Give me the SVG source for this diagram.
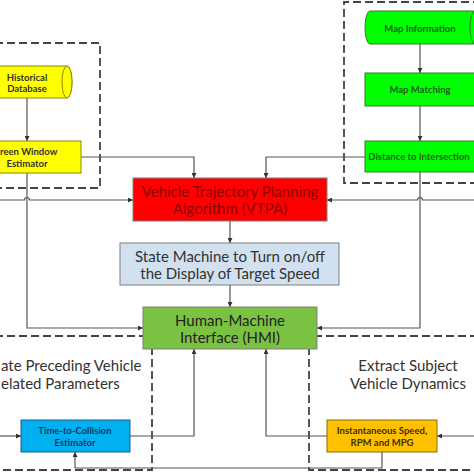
<svg xmlns="http://www.w3.org/2000/svg" width="474" height="474" viewBox="0 0 474 474">
<defs>
<marker id="ah" viewBox="0 0 10 10" refX="10" refY="5" markerWidth="5" markerHeight="5" orient="auto" markerUnits="userSpaceOnUse"><path d="M0,0 L10,5 L0,10 Z" fill="#333"/></marker>
<style>
.dash{fill:none;stroke:#444;stroke-width:1.8;stroke-dasharray:8,4}
.c{fill:none;stroke:#555;stroke-width:1.2}
.a{marker-end:url(#ah)}
text{font-family:Lato,"Liberation Sans",sans-serif;text-anchor:middle;dominant-baseline:central}
.s{font-size:9.5px;font-weight:bold}
.m{font-size:15px}
.box{stroke:#7f7f7f;stroke-width:1}
</style>
</defs>
<rect width="474" height="474" fill="#fff"/>
<g id="groups">
<path class="dash" d="M-5,43 H100 V188 H-5"/>
<path class="dash" d="M478,183 H344 V2 H478"/>
<path class="dash" d="M-5,336 H152 V470 H-5"/>
<path class="dash" d="M478,336 H309 V470 H478"/>
<text class="m" x="1" y="365" style="text-anchor:start" fill="#333">ate Preceding Vehicle</text>
<text class="m" x="1" y="383" style="text-anchor:start" fill="#333">elated Parameters</text>
<text class="m" x="408" y="365" fill="#333">Extract Subject</text>
<text class="m" x="408" y="383" fill="#333">Vehicle Dynamics</text>
</g>
<g id="connectors">
<path class="c a" d="M27,98 V141"/>
<path class="c a" d="M81,157 H194 V178"/>
<path class="c a" d="M0,200 H24.5 A2.5,2.5 0 0 1 29.5,200 H133"/>
<path class="c a" d="M27,173 V328 H143"/>
<path class="c a" d="M420,44 V73"/>
<path class="c a" d="M420,106 V141"/>
<path class="c a" d="M365,157 H266 V178"/>
<path class="c a" d="M474,200 H422.5 A2.5,2.5 0 0 0 417.5,200 H327"/>
<path class="c a" d="M420,172 V328 H317"/>
<path class="c a" d="M230,221 V243"/>
<path class="c a" d="M230,285 V307"/>
<path class="c a" d="M0,436 H21"/>
<path class="c a" d="M130,436 H194 V349"/>
<path class="c a" d="M474,436 H437"/>
<path class="c a" d="M327,436 H266 V349"/>
<path class="c a" d="M382,452 V468 H75 V452"/>
</g>
<g id="historical-database">
<path d="M-10,66 H67 A5,16 0 0 1 67,98 H-10 Z" fill="#ffff00" stroke="#8a8a00" stroke-width="1"/>
<ellipse cx="67" cy="82" rx="5" ry="16" fill="#ffff00" stroke="#8a8a00" stroke-width="1"/>
<text class="s" x="27" y="77" fill="#333">Historical</text>
<text class="s" x="27" y="88.5" fill="#333">Database</text>
</g>
<g id="green-window-estimator">
<rect x="-30" y="141" width="111" height="32" fill="#ffff00" stroke="#8a8a00" stroke-width="1"/>
<text class="s" x="0" y="151" style="text-anchor:start" fill="#333">reen Window</text>
<text class="s" x="27" y="163" fill="#333">Estimator</text>
</g>
<g id="map-information">
<path d="M370,11 H475 V44 H370 A5,16.5 0 0 1 370,11 Z" fill="#00ff00" stroke="#2e7d2e" stroke-width="1"/>
<ellipse cx="475" cy="27.5" rx="5" ry="16.5" fill="#00ff00" stroke="#2e7d2e" stroke-width="1"/>
<text class="s" x="420" y="28" fill="#1d5e1d">Map Information</text>
</g>
<g id="map-matching">
<rect x="365" y="73" width="115" height="33" fill="#00ff00" stroke="#2e7d2e" stroke-width="1"/>
<text class="s" x="420" y="89.5" fill="#1d5e1d">Map Matching</text>
</g>
<g id="distance-to-intersection">
<rect x="365" y="141" width="115" height="31" fill="#00ff00" stroke="#2e7d2e" stroke-width="1"/>
<text class="s" x="419" y="156" fill="#1d5e1d">Distance to Intersection</text>
</g>
<g id="vtpa">
<rect class="box" x="133" y="178" width="194" height="43" fill="#ff0000"/>
<text class="m" x="230" y="190.5" fill="#8b0000">Vehicle Trajectory Planning</text>
<text class="m" x="230" y="207.5" fill="#8b0000">Algorithm (VTPA)</text>
</g>
<g id="state-machine">
<rect class="box" x="120" y="243" width="219" height="42" fill="#d2e1ef"/>
<text class="m" x="230" y="255.5" fill="#333">State Machine to Turn on/off</text>
<text class="m" x="230" y="272.5" fill="#333">the Display of Target Speed</text>
</g>
<g id="hmi">
<rect class="box" x="143" y="307" width="174" height="42" fill="#7cc242"/>
<text class="m" x="230" y="320" fill="#222">Human-Machine</text>
<text class="m" x="230" y="337" fill="#222">Interface (HMI)</text>
</g>
<g id="ttc-estimator">
<rect x="21" y="420" width="109" height="32" fill="#00b0f0" stroke="#1f5f8b" stroke-width="1"/>
<text class="s" x="75" y="430.5" fill="#1f3864">Time-to-Collision</text>
<text class="s" x="75" y="442" fill="#1f3864">Estimator</text>
</g>
<g id="instantaneous-speed">
<rect x="327" y="420" width="110" height="32" fill="#ffc000" stroke="#8a6d00" stroke-width="1"/>
<text class="s" x="382" y="430.5" fill="#3d2e10">Instantaneous Speed,</text>
<text class="s" x="382" y="442" fill="#3d2e10">RPM and MPG</text>
</g>
</svg>
